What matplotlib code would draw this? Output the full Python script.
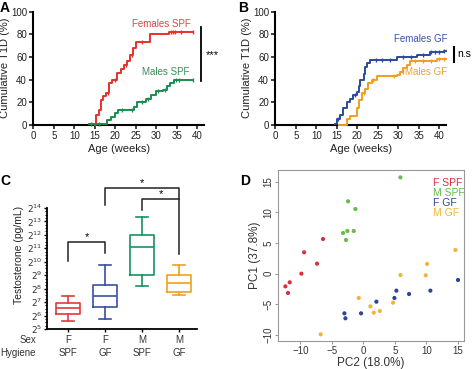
import matplotlib
matplotlib.use("Agg")
import matplotlib.pyplot as plt
import numpy as np

plt.rcParams['font.family'] = ['Liberation Sans', 'DejaVu Sans']

W, H = 474, 369

# ---------------- data ----------------
# Panel A (SPF)
fspf_t = [15.0, 15.4, 16.0, 16.5, 17.0, 17.8, 18.5, 19.3, 20.5, 21.3, 22.0, 22.8, 23.5, 24.3, 25.0, 28.5, 33.0, 38.9]
fspf_v = [0, 9, 13, 22, 25, 28, 37, 40, 46, 49, 53, 56, 62, 68, 73, 80, 82, 82]
fspf_cens = [18.2, 20.0, 22.5, 24.0, 26.5, 33.5, 34.0, 34.6, 36.0, 38.9]
mspf_t = [13.5, 17.9, 19.0, 19.8, 20.6, 24.5, 25.2, 27.5, 28.8, 29.8, 31.5, 32.5, 33.4, 34.3, 38.9]
mspf_v = [1, 4, 7, 10, 13, 16, 20, 23, 26, 30, 31, 34, 37, 40, 40]
mspf_cens = [14.0, 16.0, 21.5, 24.0, 26.5, 28.0, 30.5, 32.0, 34.8, 35.5, 38.9]

# Panel B (GF)
fgf_t = [14.5, 15.0, 15.8, 16.6, 17.4, 18.2, 19.0, 19.8, 20.3, 20.7, 21.5, 21.9, 22.3, 23.2, 29.6, 34.5, 37.7, 41.0, 41.5]
fgf_v = [1, 5, 9, 15, 20, 23, 26, 29, 34, 40, 45, 51, 55, 57, 60, 62, 64, 65, 65]
fgf_cens = [15.2, 19.5, 24.5, 26.0, 28.0, 31.0, 33.0, 36.0, 38.0, 39.0, 40.0, 41.0]
mgf_t = [15.5, 17.4, 18.2, 19.9, 20.3, 21.1, 21.9, 22.7, 23.5, 24.7, 29.6, 30.4, 31.2, 32.0, 32.8, 39.3, 41.5]
mgf_v = [0, 5, 8, 15, 22, 28, 32, 37, 40, 43, 44, 47, 50, 53, 56, 58, 58]
mgf_cens = [21.5, 23.8, 29.0, 31.0, 34.0, 36.0, 38.0, 40.0, 41.0]

# Panel C (log2 testosterone)
groups_sex = ['F', 'F', 'M', 'M']
groups_hyg = ['SPF', 'GF', 'SPF', 'GF']
box_whislo = [5.63, 5.75, 8.2, 7.5]
box_q1 = [6.08, 6.6, 9.0, 7.75]
box_med = [6.58, 7.48, 11.08, 8.43]
box_q3 = [6.93, 8.25, 11.98, 9.03]
box_whishi = [7.43, 9.75, 13.33, 9.78]

# Panel D (PCA)
pca_fspf_x = [-6.4, -9.4, -7.35, -9.83, -11.68, -12.37, -11.95]
pca_fspf_y = [5.65, 3.48, 1.63, 0.0, -1.41, -2.07, -3.15]
pca_mspf_x = [5.87, -2.43, -1.27, -2.54, -1.53, -3.22, -2.75]
pca_mspf_y = [15.7, 11.8, 10.54, 6.96, 6.96, 6.63, 5.49]
pca_fgf_x = [15.0, 5.23, 10.62, 7.24, 4.92, 2.06, -3.01, -0.37, -2.85]
pca_fgf_y = [-1.03, -2.77, -2.77, -3.32, -3.97, -4.57, -6.47, -6.47, -7.28]
pca_mgf_x = [14.59, 10.1, 9.88, 5.87, -0.74, 4.7, 1.11, 1.64, 2.59, -6.77]
pca_mgf_y = [3.86, 1.58, -0.27, -0.22, -3.97, -4.73, -5.33, -6.36, -6.09, -9.89]

# ---------------- helpers ----------------
def ax_px(fig, left, top, right, bottom):
    return fig.add_axes([left / W, 1 - bottom / H, (right - left) / W, (bottom - top) / H])

def ftext(fig, x, y, s, **kw):
    fig.text(x / W, 1 - y / H, s, **kw)

fig = plt.figure(figsize=(W / 100, H / 100), dpi=100)

def km_axes(ax):
    ax.set_xlim(0, 41.6)
    ax.set_ylim(0, 100)
    for s in ['top', 'right']:
        ax.spines[s].set_visible(False)
    for s in ['left', 'bottom']:
        ax.spines[s].set_linewidth(1.5)
    ax.set_xticks(range(0, 45, 5))
    ax.set_yticks(range(0, 101, 20))
    ax.tick_params(width=1.2, length=3, labelsize=7, pad=1.5, colors='#222222')
    ax.set_xlabel('Age (weeks)', fontsize=8, labelpad=2, color='#222222')
    ax.set_ylabel('Cumulative T1D (%)', fontsize=8, labelpad=1, color='#222222')
    ax.patch.set_alpha(0)

def km_line(ax, t, v, cens, color):
    ax.step(t, v, where='post', color=color, lw=1.4, clip_on=False, zorder=3)
    idx = np.searchsorted(t, cens, side='right') - 1
    cv = [v[max(i, 0)] for i in idx]
    ax.plot(cens, cv, ls='none', marker='|', ms=3.5, mew=1.0, color=color, clip_on=False, zorder=3)

# Panel A
axA = ax_px(fig, 33.3, 11.7, 204, 124.7)
km_axes(axA)
km_line(axA, fspf_t, fspf_v, fspf_cens, '#e8302a')
km_line(axA, mspf_t, mspf_v, mspf_cens, '#1a8c4e')
ftext(fig, 161, 24, 'Females SPF', fontsize=7, color='#dd4444', ha='center', va='center')
ftext(fig, 166, 72, 'Males SPF', fontsize=7, color='#3a8a5a', ha='center', va='center')
fig.add_artist(plt.Line2D([201 / W, 201 / W], [1 - 27 / H, 1 - 81 / H], color='black', lw=1.3))
ftext(fig, 212, 55, '***', fontsize=8, ha='center', va='center')
ftext(fig, 0, 0.5, 'A', fontsize=10, fontweight='bold', ha='left', va='top')

# Panel B
axB = ax_px(fig, 275.3, 11.7, 446, 124.7)
km_axes(axB)
km_line(axB, fgf_t, fgf_v, fgf_cens, '#2b4a9e')
km_line(axB, mgf_t, mgf_v, mgf_cens, '#f39c1e')
ftext(fig, 421, 39, 'Females GF', fontsize=7, color='#3a55a5', ha='center', va='center')
ftext(fig, 426.5, 72, 'Males GF', fontsize=7, color='#f0a030', ha='center', va='center')
fig.add_artist(plt.Line2D([453.7 / W, 453.7 / W], [1 - 47 / H, 1 - 62 / H], color='black', lw=1.5))
ftext(fig, 457, 54, 'n.s', fontsize=7.5, ha='left', va='center')
ftext(fig, 238, 0.5, 'B', fontsize=10, fontweight='bold', ha='left', va='top')

# Panel C
axC = ax_px(fig, 47, 181, 197, 329)
axC.set_xlim(0.432, 4.486)
axC.set_ylim(5, 16)
box_colors = ['#e03a3a', '#3b4fa0', '#1a9060', '#f0a020']
stats = []
for i in range(4):
    stats.append(dict(whislo=box_whislo[i], q1=box_q1[i], med=box_med[i],
                      q3=box_q3[i], whishi=box_whishi[i], fliers=[]))
for i in range(4):
    c = box_colors[i]
    axC.bxp([stats[i]], positions=[i + 1], widths=0.64, showfliers=False,
            boxprops=dict(color=c, lw=1.2), whiskerprops=dict(color=c, lw=1.2),
            capprops=dict(color=c, lw=1.2), medianprops=dict(color=c, lw=1.2),
            capwidths=0.32, manage_ticks=False)
for s in ['top', 'right']:
    axC.spines[s].set_visible(False)
axC.spines['left'].set_bounds(5, 14)
axC.spines['left'].set_linewidth(1.3)
axC.spines['bottom'].set_linewidth(1.3)
axC.set_yticks(range(5, 15))
axC.set_yticklabels([r'$2^{%d}$' % k for k in range(5, 15)], fontsize=6.5, color='#333333')
axC.set_yticks(np.arange(5, 14, 0.25), minor=True)
axC.tick_params(axis='y', which='minor', length=1.5, width=0.8)
axC.tick_params(axis='y', which='major', length=2.5, width=1.0, pad=1)
axC.set_xticks([1, 2, 3, 4])
axC.set_xticklabels([])
axC.tick_params(axis='x', length=2, width=1.0)
axC.set_ylabel('Testosterone (pg/mL)', fontsize=7.5, labelpad=2, color='#222222')
axC.patch.set_alpha(0)

def bracket(ax, x1, x2, y1, ytop, y2, star_y):
    ax.plot([x1, x1, x2, x2], [y1, ytop, ytop, y2], color='#222222', lw=1.1, clip_on=False)
    ax.text((x1 + x2) / 2, star_y, '*', fontsize=8, ha='center', va='center')

bracket(axC, 1, 2, 10.08, 11.43, 10.63, 11.85)
bracket(axC, 2, 4, 14.18, 15.5, 10.58, 15.85)
bracket(axC, 3, 4, 13.88, 14.68, 14.68, 15.05)

cat_px = [68, 105, 142, 179]
for i in range(4):
    ftext(fig, cat_px[i], 340, groups_sex[i], fontsize=7, ha='center', va='center', color='#333333')
    ftext(fig, cat_px[i], 352.7, groups_hyg[i], fontsize=7, ha='center', va='center', color='#333333')
ftext(fig, 36, 340, 'Sex', fontsize=7, ha='right', va='center', color='#333333')
ftext(fig, 36, 352.7, 'Hygiene', fontsize=7, ha='right', va='center', color='#333333')
ftext(fig, 0, 174, 'C', fontsize=10, fontweight='bold', ha='left', va='top')

# Panel D
axD = ax_px(fig, 278.3, 170, 464, 340.7)
axD.set_xlim(-13.49, 15.95)
axD.set_ylim(-10.93, 16.9)
pc = {'F SPF': ('#d9303f', pca_fspf_x, pca_fspf_y),
      'M SPF': ('#66bb4a', pca_mspf_x, pca_mspf_y),
      'F GF': ('#2c4596', pca_fgf_x, pca_fgf_y),
      'M GF': ('#f2b53a', pca_mgf_x, pca_mgf_y)}
for name, (c, xs, ys) in pc.items():
    axD.scatter(xs, ys, s=9, color=c, edgecolors='none')
for s in axD.spines.values():
    s.set_color('#999999')
    s.set_linewidth(0.8)
axD.set_xticks([-10, -5, 0, 5, 10, 15])
axD.set_xticklabels(['\u221210', '\u22125', '0', '5', '10', '15'])
axD.set_yticks([-10, -5, 0, 5, 10, 15])
axD.set_yticklabels(['\u221210', '\u22125', '0', '5', '10', '15'], rotation=90, va='center')
axD.tick_params(labelsize=7, length=2.5, width=0.8, colors='#999999', labelcolor='#333333', pad=1)
axD.set_xlabel('PC2 (18.0%)', fontsize=8.5, labelpad=1, color='#333333')
axD.set_ylabel('PC1 (37.8%)', fontsize=8.5, labelpad=2, color='#333333')
ly = [183.3, 192.7, 203.3, 213.3]
for (name, (c, _, _)), y in zip(pc.items(), ly):
    ftext(fig, 433, y, name, fontsize=7.5, color=c, ha='left', va='center')
ftext(fig, 240, 174, 'D', fontsize=10, fontweight='bold', ha='left', va='top')

fig.savefig('out.png', dpi=100)
